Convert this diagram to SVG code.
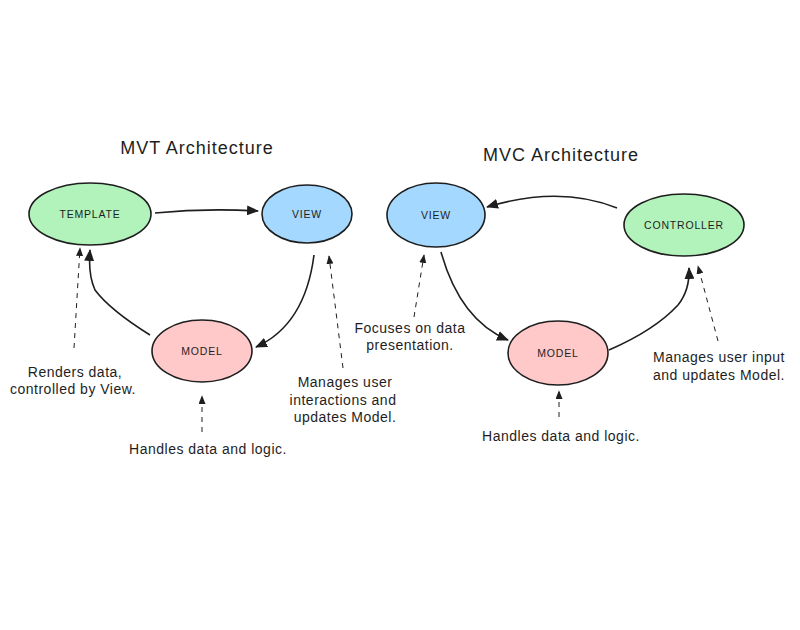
<svg xmlns="http://www.w3.org/2000/svg" width="800" height="630" viewBox="0 0 800 630">
<defs>
<marker id="ah" viewBox="0 0 12 10" refX="11" refY="5" markerWidth="12" markerHeight="10" markerUnits="userSpaceOnUse" orient="auto">
<path d="M0,0 L12,5 L0,10 Z" fill="#1e1e1e"/>
</marker>
<marker id="ahs" viewBox="0 0 10 8" refX="9" refY="4" markerWidth="9" markerHeight="7" markerUnits="userSpaceOnUse" orient="auto">
<path d="M0,0 L10,4 L0,8 Z" fill="#1e1e1e"/>
</marker>
<style>
.n{stroke:#1e1e1e;stroke-width:1.6}
.g{fill:#b2f2bb}.b{fill:#a5d8ff}.p{fill:#ffc9c9}
.nt{font-family:"Liberation Sans",Arial,sans-serif;font-size:10.5px;fill:#1e1e1e;text-anchor:middle;letter-spacing:0.8px}
.t{font-family:"Liberation Sans",Arial,sans-serif;font-size:14px;fill:#1e1e1e;text-anchor:middle;letter-spacing:0.5px}
.h{font-family:"Liberation Sans",Arial,sans-serif;font-size:18px;fill:#1e1e1e;text-anchor:middle;letter-spacing:1px}
.c{fill:none;stroke:#1e1e1e;stroke-width:1.6;marker-end:url(#ah)}
.d{fill:none;stroke:#1e1e1e;stroke-width:1;stroke-dasharray:5 5;marker-end:url(#ahs)}
</style>
</defs>
<rect width="800" height="630" fill="#ffffff"/>
<text class="h" x="197" y="154">MVT Architecture</text>
<text class="h" x="561" y="161">MVC Architecture</text>

<g id="mvt-template"><ellipse class="n g" cx="90" cy="214" rx="61" ry="31"/><text class="nt" x="90" y="218">TEMPLATE</text></g>
<g id="mvt-view"><ellipse class="n b" cx="307" cy="214" rx="45" ry="29"/><text class="nt" x="307" y="218">VIEW</text></g>
<g id="mvt-model"><ellipse class="n p" cx="202" cy="351" rx="50" ry="31"/><text class="nt" x="202" y="355">MODEL</text></g>
<g id="mvc-view"><ellipse class="n b" cx="436" cy="215" rx="49" ry="32"/><text class="nt" x="436" y="219">VIEW</text></g>
<g id="mvc-controller"><ellipse class="n g" cx="684" cy="225" rx="60" ry="31"/><text class="nt" x="684" y="229">CONTROLLER</text></g>
<g id="mvc-model"><ellipse class="n p" cx="558" cy="353" rx="50" ry="32"/><text class="nt" x="558" y="357">MODEL</text></g>

<g id="connectors">
<path class="c" d="M155,213 Q205,208 258,211"/>
<path class="c" d="M314,255 Q305,325 256,347"/>
<path class="c" d="M150,335 Q110,310 95,290 Q88,275 90,250"/>
<path class="c" d="M617,208 Q560,185 487,207"/>
<path class="c" d="M441,252 Q460,320 508,340"/>
<path class="c" d="M609,350 Q655,330 678,305 Q690,290 689,268"/>
<path class="d" d="M74,348 L80,248"/>
<path class="d" d="M202,432 L202,396"/>
<path class="d" d="M343,368 L329,256"/>
<path class="d" d="M414,317 L424,255"/>
<path class="d" d="M559,417 L559,391"/>
<path class="d" d="M718,341 L698,266"/>
</g>

<g id="labels">
<text class="t" x="75" y="377">Renders data,</text>
<text class="t" x="73" y="394">controlled by View.</text>
<text class="t" x="208" y="454">Handles data and logic.</text>
<text class="t" x="345" y="387">Manages user</text>
<text class="t" x="343" y="405">interactions and</text>
<text class="t" x="345" y="422">updates Model.</text>
<text class="t" x="410" y="333">Focuses on data</text>
<text class="t" x="410" y="350">presentation.</text>
<text class="t" x="561" y="441">Handles data and logic.</text>
<text class="t" x="719" y="362">Manages user input</text>
<text class="t" x="719" y="380">and updates Model.</text>
</g>
</svg>
